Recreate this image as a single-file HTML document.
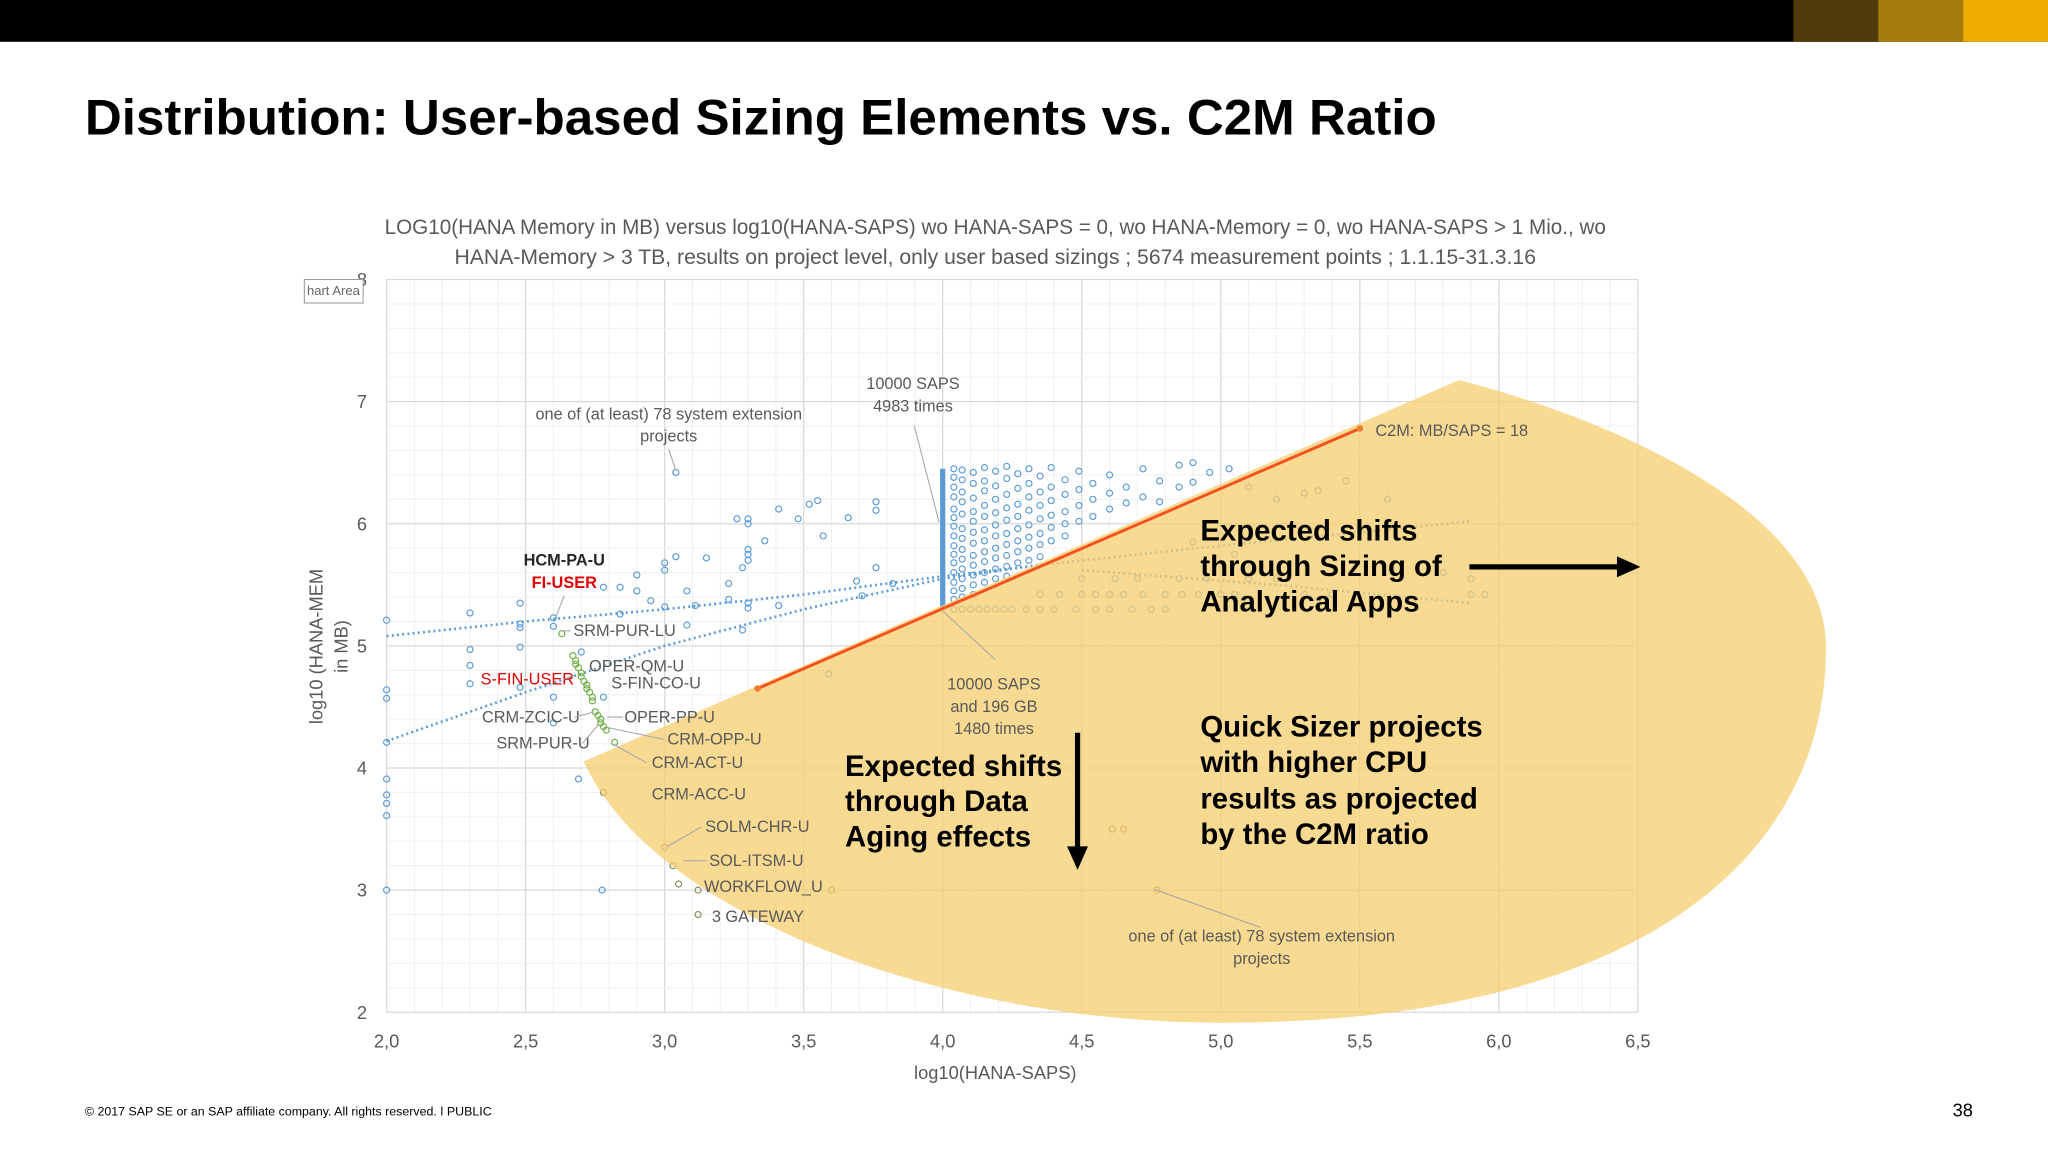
<!DOCTYPE html>
<html><head><meta charset="utf-8"><title>Distribution chart</title>
<style>
html,body{margin:0;padding:0;background:#fff;width:2048px;height:1152px;overflow:hidden}
svg{display:block}
text{font-family:"Liberation Sans",sans-serif}
.lbl{font-family:"Liberation Sans Narrow","Liberation Sans",sans-serif;font-size:12.5px;fill:#595959}
.tick{font-family:"Liberation Sans Narrow","Liberation Sans",sans-serif;font-size:14px;fill:#595959}
.big{font-family:"Liberation Sans",sans-serif;font-weight:bold;font-size:22.5px;fill:#000}
</style></head>
<body>
<svg id="chart" width="2048" height="1152" viewBox="0 0 1568 882" preserveAspectRatio="none" xmlns="http://www.w3.org/2000/svg">
  <rect x="0" y="0" width="1568" height="32" fill="#000"/>
  <rect x="1373" y="0" width="65" height="32" fill="#4f3c0a"/>
  <rect x="1438" y="0" width="65" height="32" fill="#a77c0c"/>
  <rect x="1503" y="0" width="65" height="32" fill="#f0ab00"/>
  <text x="65" y="103" font-size="38" font-weight="bold" fill="#000" textLength="1035" lengthAdjust="spacingAndGlyphs">Distribution: User-based Sizing Elements vs. C2M Ratio</text>
  <text x="762" y="179" text-anchor="middle" font-size="16" fill="#595959" font-family="Liberation Sans Narrow, Liberation Sans, sans-serif" textLength="935" lengthAdjust="spacingAndGlyphs">LOG10(HANA Memory in MB) versus log10(HANA-SAPS) wo HANA-SAPS = 0, wo HANA-Memory = 0, wo HANA-SAPS &gt;  1 Mio., wo</text>
  <text x="762" y="202" text-anchor="middle" font-size="16" fill="#595959" font-family="Liberation Sans Narrow, Liberation Sans, sans-serif" textLength="828" lengthAdjust="spacingAndGlyphs">HANA-Memory &gt; 3 TB, results on project level, only user based sizings ; 5674 measurement points ; 1.1.15-31.3.16</text>
  <g id="grid"></g>
  <g id="axes"></g>
  <g id="trend"></g>
  <g id="marks"></g>
  <path d="M447,583 L1117,291 C1230,320 1398,390 1398,496 C1398,660 1250,783 936,783 C720,783 500,700 447,583 Z" fill="rgb(245,205,110)" fill-opacity="0.75"/>
  <g id="c2m"></g>
  <g id="annot"></g>
  <g>
    <rect x="233" y="214" width="45" height="18" fill="#fff" stroke="#999" stroke-width="0.8"/>
    <text x="235" y="226" font-size="10" fill="#666">hart Area</text>
  </g>
  <text x="65" y="854" font-size="9.5" fill="#000">© 2017 SAP SE or an SAP affiliate company. All rights reserved.   ǀ   PUBLIC</text>
  <text x="1495" y="855" font-size="14" fill="#000">38</text>
</svg>
<script>
const xTicks = [2.0, 2.5, 3.0, 3.5, 4.0, 4.5, 5.0, 5.5, 6.0, 6.5];
const xTickLabels = ["2,0","2,5","3,0","3,5","4,0","4,5","5,0","5,5","6,0","6,5"];
const yTicks = [2, 3, 4, 5, 6, 7, 8];
const yTickLabels = ["2","3","4","5","6","7","8"];
const blueSeries = [
[2.0,5.21],[2.0,4.64],[2.0,4.57],[2.0,4.21],[2.0,3.91],[2.0,3.78],[2.0,3.71],[2.0,3.61],[2.0,3.0],
[2.3,5.27],[2.3,4.97],[2.3,4.84],[2.3,4.69],[2.48,5.35],[2.48,5.18],[2.48,5.15],[2.48,4.99],[2.48,4.66],
[2.6,5.23],[2.6,5.16],[2.6,4.58],[2.6,4.37],[2.7,4.95],[2.69,3.91],[2.78,5.48],[2.78,4.58],[2.84,5.48],[2.84,5.26],
[2.9,5.58],[2.9,5.45],[2.95,5.37],[3.0,5.68],[3.0,5.62],[3.0,5.32],[3.04,6.42],[3.04,5.73],[3.08,5.45],[3.08,5.17],
[3.11,5.33],[3.15,5.72],[3.23,5.51],[3.23,5.38],[3.26,6.04],[3.28,5.64],[3.28,5.13],[3.3,6.04],[3.3,6.0],[3.3,5.79],
[3.3,5.75],[3.3,5.7],[3.3,5.35],[3.3,5.31],[3.36,5.86],[3.41,6.12],[3.41,5.33],[3.48,6.04],[3.52,6.16],[3.55,6.19],
[3.57,5.9],[3.66,6.05],[3.69,5.53],[3.71,5.41],[3.76,6.18],[3.76,6.11],[3.76,5.64],[3.82,5.51],[2.775,3.0],
[4.04,6.45],[4.04,6.38],[4.04,6.3],[4.04,6.22],[4.04,6.12],[4.04,6.05],[4.04,5.98],[4.04,5.9],[4.04,5.82],[4.04,5.75],[4.04,5.68],[4.04,5.6],[4.04,5.52],[4.04,5.45],[4.04,5.38],
[4.07,6.44],[4.07,6.36],[4.07,6.26],[4.07,6.18],[4.07,6.08],[4.07,5.96],[4.07,5.88],[4.07,5.79],[4.07,5.71],[4.07,5.63],[4.07,5.55],[4.07,5.47],[4.07,5.4],
[4.11,6.42],[4.11,6.33],[4.11,6.21],[4.11,6.1],[4.11,6.02],[4.11,5.93],[4.11,5.84],[4.11,5.74],[4.11,5.66],[4.11,5.58],[4.11,5.5],[4.11,5.42],
[4.15,6.46],[4.15,6.35],[4.15,6.27],[4.15,6.15],[4.15,6.06],[4.15,5.95],[4.15,5.86],[4.15,5.77],[4.15,5.69],[4.15,5.6],[4.15,5.52],
[4.19,6.43],[4.19,6.31],[4.19,6.2],[4.19,6.09],[4.19,5.99],[4.19,5.9],[4.19,5.8],[4.19,5.72],[4.19,5.63],[4.19,5.55],
[4.23,6.47],[4.23,6.37],[4.23,6.24],[4.23,6.13],[4.23,6.03],[4.23,5.92],[4.23,5.83],[4.23,5.74],[4.23,5.65],[4.23,5.57],
[4.27,6.41],[4.27,6.29],[4.27,6.16],[4.27,6.06],[4.27,5.96],[4.27,5.86],[4.27,5.77],[4.27,5.68],
[4.31,6.45],[4.31,6.33],[4.31,6.22],[4.31,6.11],[4.31,5.99],[4.31,5.89],[4.31,5.8],[4.31,5.7],
[4.35,6.39],[4.35,6.26],[4.35,6.15],[4.35,6.04],[4.35,5.92],[4.35,5.83],[4.35,5.73],
[4.39,6.46],[4.39,6.3],[4.39,6.19],[4.39,6.07],[4.39,5.97],[4.39,5.86],
[4.44,6.36],[4.44,6.24],[4.44,6.1],[4.44,6.0],[4.44,5.9],[4.49,6.43],[4.49,6.28],[4.49,6.15],[4.49,6.02],
[4.54,6.33],[4.54,6.2],[4.54,6.06],[4.6,6.4],[4.6,6.25],[4.6,6.12],[4.66,6.3],[4.66,6.17],[4.72,6.45],[4.72,6.22],
[4.78,6.35],[4.78,6.18],[4.85,6.48],[4.85,6.3],[4.9,6.5],[4.9,6.34],[4.96,6.42],[5.03,6.45],
[4.04,5.3],[4.07,5.3],[4.1,5.3],[4.13,5.3],[4.16,5.3],[4.19,5.3],[4.22,5.3],[4.25,5.3],[4.3,5.3],[4.35,5.3],[4.4,5.3],[4.48,5.3],[4.55,5.3],[4.6,5.3],[4.68,5.3],[4.75,5.3],[4.8,5.3],
[4.35,5.42],[4.42,5.42],[4.5,5.42],[4.55,5.42],[4.6,5.42],[4.65,5.42],[4.72,5.42],[4.8,5.42],[4.86,5.42],[4.92,5.42],[5.0,5.42],[5.05,5.42],[5.3,5.42],[5.4,5.42],[5.9,5.42],[5.95,5.42],
[4.5,5.55],[4.62,5.55],[4.7,5.55],[4.85,5.55],[4.95,5.55],[5.1,5.55],[5.2,5.55],
[5.3,6.25],[5.35,6.27],[5.45,6.35],[5.6,6.2],[5.1,6.3],[5.2,6.2],[5.0,5.9],[5.05,5.75],[4.9,5.85],[5.8,5.6],[5.9,5.55],[3.59,4.77]
];
const greenSeries = [
[2.63,5.1],[2.67,4.92],[2.68,4.88],[2.68,4.85],[2.69,4.82],[2.7,4.78],[2.7,4.75],[2.71,4.71],[2.72,4.68],[2.72,4.65],
[2.73,4.62],[2.74,4.58],[2.74,4.55],[2.75,4.46],[2.76,4.43],[2.77,4.4],[2.77,4.37],[2.78,4.34],[2.79,4.31],[2.82,4.21]
];
const oliveSeries = [
[2.78,3.8],[3.0,3.35],[3.03,3.2],[3.05,3.05],[3.12,3.0],[3.12,2.8],[3.6,3.0],[4.61,3.5],[4.65,3.5],[4.77,3.0]
];
const trendUpperX = [2.0,2.5,3.0,3.5,4.0,4.5,5.0,5.5,5.9];
const trendUpperY = [5.08,5.2,5.3,5.42,5.57,5.7,5.82,5.93,6.02];
const trendLowerX = [2.0,2.5,3.0,3.5,4.0,4.4];
const trendLowerY = [4.22,4.62,5.0,5.3,5.55,5.68];
const trendThirdX = [4.5,5.2,5.9];
const trendThirdY = [5.62,5.5,5.35];
const c2mX = [3.334, 5.5];
const c2mY = [4.65, 6.78];
const barX = [4.0];
const barLow = [5.3];
const barHigh = [6.45];

const NS = "http://www.w3.org/2000/svg";
const X0=296, X1=1254, Y0=775, Y1=214;
function xs(v){ return X0 + (v-2)/(6.5-2)*(X1-X0); }
function ys(v){ return Y0 - (v-2)/(8-2)*(Y0-Y1); }
function mk(tag, attrs, parent){ const e=document.createElementNS(NS,tag); for(const k in attrs) e.setAttribute(k, attrs[k]); parent.appendChild(e); return e; }

const grid=document.getElementById('grid');
for(let i=0;i<=45;i++){ const v=2+i*0.1; const major=(i%5===0);
  const l=mk('line',{x1:xs(v),x2:xs(v),y1:Y1,y2:Y0,stroke:major?'#d9d9d9':'#f0f0f0','stroke-width':major?1:0.8},grid);
  
  
}
for(let i=0;i<=30;i++){ const v=2+i*0.2; const major=(i%5===0);
  const l=mk('line',{x1:X0,x2:X1,y1:ys(v),y2:ys(v),stroke:major?'#d9d9d9':'#f0f0f0','stroke-width':major?1:0.8},grid);
  
  
}
const axes=document.getElementById('axes');
xTicks.forEach((v,i)=>{ const t=mk('text',{x:xs(v),y:802,'text-anchor':'middle',class:'tick'},axes); t.textContent=xTickLabels[i];
  
   });
yTicks.forEach((v,i)=>{ const t=mk('text',{x:281,y:ys(v)+5,'text-anchor':'end',class:'tick'},axes); t.textContent=yTickLabels[i];
  
   });
let xt=mk('text',{x:762,y:826,'text-anchor':'middle',class:'tick'},axes); xt.textContent='log10(HANA-SAPS)';


let yt=mk('text',{x:0,y:0,'text-anchor':'middle',class:'tick',transform:'translate(247,495) rotate(-90)'},axes); yt.textContent='log10 (HANA-MEM';


let yt2=mk('text',{x:0,y:0,'text-anchor':'middle',class:'tick',transform:'translate(266,495) rotate(-90)'},axes); yt2.textContent='in MB)';



const trend=document.getElementById('trend');
function poly(xa,ya,name){ const d=xa.map((v,i)=>(i?'L':'M')+xs(v).toFixed(1)+','+ys(ya[i]).toFixed(1)).join(' ');
  const p=mk('path',{d:d,fill:'none',stroke:'#5b9bd5','stroke-width':2,'stroke-dasharray':'1.5 2.5'},trend);
  
   }
poly(trendUpperX,trendUpperY,'trend-line-upper');
poly(trendLowerX,trendLowerY,'trend-line-lower');
poly(trendThirdX,trendThirdY,'trend-line-third');

const marks=document.getElementById('marks');
barX.forEach((v,i)=>{ const b=mk('line',{x1:xs(v),x2:xs(v),y1:ys(barLow[i]),y2:ys(barHigh[i]),stroke:'#5b9bd5','stroke-width':4},marks);
  
   });
function pts(arr,color,name){ arr.forEach(p=>{ const c=mk('circle',{cx:xs(p[0]),cy:ys(p[1]),r:2.3,fill:'none',stroke:color,'stroke-width':0.9},marks);
  
   }); }
pts(blueSeries,'#5b9bd5','point-blue');
pts(greenSeries,'#70ad47','point-green');
pts(oliveSeries,'#8a8a5a','point-olive');

const c2m=document.getElementById('c2m');
const cl=mk('line',{x1:xs(c2mX[0]),y1:ys(c2mY[0]),x2:xs(c2mX[1]),y2:ys(c2mY[1]),stroke:'#f4511e','stroke-width':2.2},c2m);


c2mX.forEach((v,i)=>{ const d=mk('circle',{cx:xs(v),cy:ys(c2mY[i]),r:2.5,fill:'#ed7d31'},c2m);
  
   });

const an=document.getElementById('annot');
function label(x,y,txt,opts){ opts=opts||{}; const t=mk('text',{x:x,y:y,class:'lbl','text-anchor':opts.anchor||'start'},an);
  if(opts.fill) t.setAttribute('style','fill:'+opts.fill+(opts.bold?';font-weight:bold':''));
  t.textContent=txt;
  
   return t; }
function lead(x1,y1,x2,y2){ const l=mk('line',{x1:x1,y1:y1,x2:x2,y2:y2,stroke:'#a6a6a6','stroke-width':0.8},an);
  
   }
label(512,321,'one of (at least) 78 system extension',{anchor:'middle'}); label(512,338,'projects',{anchor:'middle'}); lead(512,344,517,359);
label(699,298,'10000 SAPS',{anchor:'middle'}); label(699,315,'4983 times',{anchor:'middle'}); lead(700,326,719,400);
label(432,433,'HCM-PA-U',{anchor:'middle',fill:'#262626',bold:true}); label(432,450,'FI-USER',{anchor:'middle',fill:'#e00000',bold:true}); lead(432,456,425,474);
label(439,487,'SRM-PUR-LU'); lead(430,483,437,483);
label(451,514,'OPER-QM-U'); label(468,527,'S-FIN-CO-U'); label(368,524,'S-FIN-USER',{fill:'#e00000'});
label(369,553,'CRM-ZCIC-U'); label(478,553,'OPER-PP-U'); label(380,573,'SRM-PUR-U'); label(511,570,'CRM-OPP-U');
label(499,588,'CRM-ACT-U'); label(499,612,'CRM-ACC-U'); label(540,637,'SOLM-CHR-U'); label(543,663,'SOL-ITSM-U');
label(539,683,'WORKFLOW_U'); label(545,706,'3 GATEWAY');
lead(432,520,440,517); lead(440,549,455,545); lead(465,549,477,549); lead(446,569,458,555); lead(465,557,508,566); lead(470,570,495,584);
lead(537,633,511,648); lead(523,659,541,659);
label(761,528,'10000 SAPS',{anchor:'middle'}); label(761,545,'and 196 GB',{anchor:'middle'}); label(761,562,'1480 times',{anchor:'middle'}); lead(722,468,762,505);
label(1053,334,'C2M: MB/SAPS = 18');
label(966,721,'one of (at least) 78 system extension',{anchor:'middle'}); label(966,738,'projects',{anchor:'middle'}); lead(884,681,965,710);

function big(x,y,txt){ const t=mk('text',{x:x,y:y,class:'big'},an); t.textContent=txt;
  
   }
big(919,414,'Expected shifts'); big(919,441,'through Sizing of'); big(919,468,'Analytical Apps');
big(919,564,'Quick Sizer projects'); big(919,591,'with higher CPU'); big(919,619,'results as projected'); big(919,646,'by the C2M ratio');
big(647,594,'Expected shifts'); big(647,621,'through Data'); big(647,648,'Aging effects');
const a1=mk('line',{x1:1125,y1:434,x2:1240,y2:434,stroke:'#000','stroke-width':4},an);


const h1=mk('polygon',{points:'1238,426 1256,434 1238,442',fill:'#000'},an);


const a2=mk('line',{x1:825,y1:561,x2:825,y2:650,stroke:'#000','stroke-width':4},an);


const h2=mk('polygon',{points:'817,648 825,666 833,648',fill:'#000'},an);


</script>
</body></html>
